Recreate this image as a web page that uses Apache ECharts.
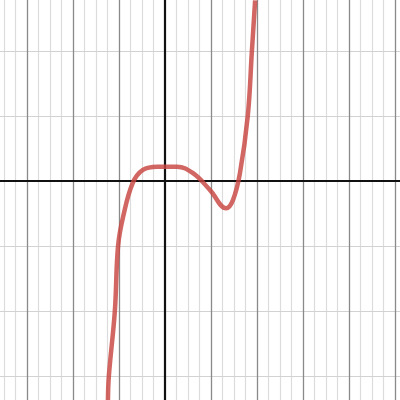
<!DOCTYPE html>
<html><head><meta charset="utf-8">
<script src="https://cdn.jsdelivr.net/npm/echarts@6/dist/echarts.min.js"></script>
<style>html,body{margin:0;padding:0;background:#fff}#c{width:400px;height:400px}</style>
</head><body><div id="c"></div>
<script>
const curveX = [-1.24,-1.22,-1.09,-1.02,-0.91,-0.70,-0.48,-0.17,0.26,0.61,0.98,1.33,1.48,1.63,1.80,1.89,1.96];
const curveY = [-3.37,-3.0,-2.0,-1.0,-0.55,-0.03,0.17,0.22,0.22,0.12,-0.14,-0.42,-0.29,0.12,1.0,2.0,2.78];
const xMajor = [-3,-2,-1,1,2,3,4,5];
const xMinor = [-3.5,-3.25,-2.75,-2.5,-2.25,-1.75,-1.5,-1.25,-0.75,-0.5,-0.25,0.25,0.5,0.75,1.25,1.5,1.75,2.25,2.5,2.75,3.25,3.5,3.75,4.25,4.5,4.75,5.25];
const yLines = [-3,-2,-1,1,2];
const xRange = [-3.587, 5.11];
const yRange = [-3.37, 2.785];

const chart = echarts.init(document.getElementById('c'), null, {renderer:'canvas'});
const vl = (arr, color, w) => arr.map(v => ({xAxis: v, lineStyle:{color, width:w, type:'solid'}}));
chart.setOption({
  animation:false,
  grid:{left:0,right:0,top:0,bottom:0},
  xAxis:{type:'value',min:xRange[0],max:xRange[1],axisLine:{show:false},axisTick:{show:false},axisLabel:{show:false},splitLine:{show:false}},
  yAxis:{type:'value',min:yRange[0],max:yRange[1],axisLine:{show:false},axisTick:{show:false},axisLabel:{show:false},splitLine:{show:false}},
  series:[
    {type:'line',data:[],silent:true,markLine:{symbol:'none',silent:true,label:{show:false},animation:false,
      data:[].concat(
        vl(xMinor,'#dcdcdc',1.2),
        yLines.map(v=>({yAxis:v,lineStyle:{color:'#d2d2d2',width:1.2,type:'solid'}})),
        vl(xMajor,'#8a8a8a',1.3),
        [{xAxis:0,lineStyle:{color:'#111',width:2.2,type:'solid'}},{yAxis:0,lineStyle:{color:'#111',width:2.2,type:'solid'}}]
      )}},
    {type:'line',data:curveX.map((x,i)=>[x,curveY[i]]),smooth:0.4,showSymbol:false,
     lineStyle:{color:'rgba(199,68,64,0.82)',width:4.5},z:5}
  ]
});
</script></body></html>
